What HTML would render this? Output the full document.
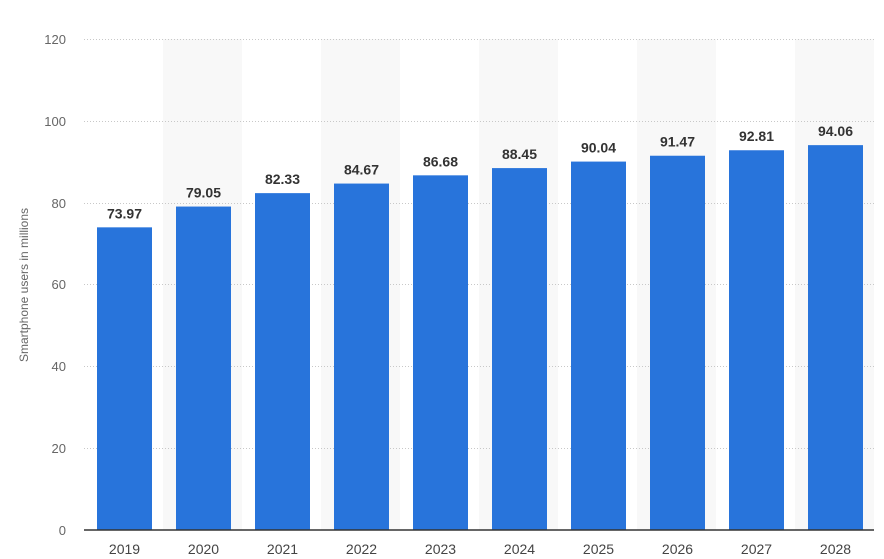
<!DOCTYPE html>
<html><head><style>html,body{margin:0;background:#fff;overflow:hidden}svg{display:block}</style></head><body>
<svg width="884" height="559" xmlns="http://www.w3.org/2000/svg" font-family="Liberation Sans, sans-serif">
<g fill="#f8f8f8">
<rect x="163" y="39" width="79" height="491"/><rect x="321" y="39" width="79" height="491"/><rect x="479" y="39" width="79" height="491"/><rect x="637" y="39" width="79" height="491"/><rect x="795" y="39" width="79" height="491"/>
</g>
<g stroke="#c8c8c8" stroke-dasharray="1,2" stroke-width="1">
<line x1="84" x2="874" y1="39.5" y2="39.5"/><line x1="84" x2="874" y1="121.5" y2="121.5"/><line x1="84" x2="874" y1="203.5" y2="203.5"/><line x1="84" x2="874" y1="284.5" y2="284.5"/><line x1="84" x2="874" y1="366.5" y2="366.5"/><line x1="84" x2="874" y1="448.5" y2="448.5"/>
</g>
<g fill="#666" font-size="13" text-anchor="end">
<text x="66" y="44">120</text><text x="66" y="126">100</text><text x="66" y="208">80</text><text x="66" y="289">60</text><text x="66" y="371">40</text><text x="66" y="453">20</text><text x="66" y="535">0</text>
</g>
<text transform="translate(28,285) rotate(-90)" text-anchor="middle" font-size="12" fill="#666">Smartphone users in millions</text>
<g fill="#2874db" id="bars"></g>
<g id="labs" font-size="14" font-weight="bold" fill="#333" text-anchor="middle"></g>
<g id="xl" font-size="14" fill="#444" text-anchor="middle"></g>
<line x1="84" x2="874" y1="530" y2="530" stroke="#333" stroke-width="1.5"/>
<script>
var v=[73.97,79.05,82.33,84.67,86.68,88.45,90.04,91.47,92.81,94.06],ns="http://www.w3.org/2000/svg";
v.forEach(function(d,i){var cx=124.5+i*79,y=530-d*4.0917;
var r=document.createElementNS(ns,"rect");r.setAttribute("x",cx-27.5);r.setAttribute("y",y);r.setAttribute("width",55);r.setAttribute("height",530-y);document.getElementById("bars").appendChild(r);
var t=document.createElementNS(ns,"text");t.setAttribute("x",cx);t.setAttribute("y",y-9);t.textContent=d.toFixed(2);document.getElementById("labs").appendChild(t);
var x=document.createElementNS(ns,"text");x.setAttribute("x",cx);x.setAttribute("y",554);x.textContent=2019+i;document.getElementById("xl").appendChild(x);});
</script>
</svg>
</body></html>
